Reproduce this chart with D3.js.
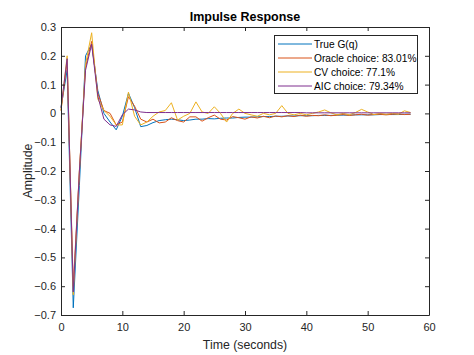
<!DOCTYPE html>
<html><head><meta charset="utf-8">
<script src="https://cdn.jsdelivr.net/npm/d3@7"></script>
<style>body{margin:0;background:#fff;} svg{display:block;font-family:"Liberation Sans",Arial,sans-serif;}</style>
</head><body>
<svg id="chart" width="474" height="355"></svg>
<script>
const seriesNames = ["True G(q)", "Oracle choice: 83.01%", "CV choice: 77.1%", "AIC choice: 79.34%"];
const seriesColors = ["#0072BD", "#D95319", "#EDB120", "#7E2F8E"];
const xTicks = [0, 10, 20, 30, 40, 50, 60];
const yTicks = [-0.7, -0.6, -0.5, -0.4, -0.3, -0.2, -0.1, 0, 0.1, 0.2, 0.3];

const trueG = [0.02,0.15,-0.675,-0.25,0.2,0.24,0.08,0.0,-0.03,-0.057,-0.01,0.07,0.02,-0.046,-0.042,-0.032,-0.025,-0.022,-0.02,-0.022,
 -0.025,-0.023,-0.02,-0.02,-0.018,-0.019,-0.017,-0.016,-0.016,-0.014,-0.013,-0.013,-0.012,-0.011,-0.011,-0.01,-0.01,-0.009,-0.009,-0.008,
 -0.008,-0.008,-0.007,-0.007,-0.007,-0.006,-0.006,-0.006,-0.005,-0.005,-0.005,-0.005,-0.004,-0.004,-0.004,-0.004,-0.003,-0.003];
const oracle = [0.01,0.18,-0.6,-0.2,0.16,0.25,0.07,0.01,0.0,-0.04,-0.03,0.058,0.025,-0.02,-0.03,-0.02,-0.033,-0.03,-0.015,-0.025,
 -0.03,-0.012,-0.012,-0.027,-0.015,-0.006,-0.02,-0.023,-0.011,-0.015,-0.02,-0.012,-0.016,-0.01,-0.015,-0.009,-0.012,-0.008,-0.011,-0.006,
 -0.01,-0.007,-0.008,-0.005,-0.008,-0.006,-0.004,-0.007,-0.005,-0.003,-0.006,-0.004,-0.003,-0.005,-0.003,-0.002,-0.004,-0.003];
const cv = [0.01,0.2,-0.63,-0.2,0.17,0.28,0.05,0.01,-0.01,-0.04,-0.04,0.074,-0.01,-0.04,-0.03,-0.01,0.005,0.01,0.037,-0.023,
 -0.01,0.0,0.04,0.005,0.0,0.023,0.0,-0.03,0.0,0.015,0.0,-0.005,-0.01,0.0,-0.005,0.0,0.027,0.0,-0.005,0.0,
 -0.005,0.0,0.005,0.012,0.002,-0.005,0.0,-0.005,0.003,0.014,0.005,-0.004,0.0,-0.003,0.0,-0.003,0.009,0.003];
const aic = [0.02,0.19,-0.62,-0.2,0.15,0.24,0.06,-0.02,-0.04,-0.045,-0.005,0.015,0.012,0.005,0.003,0.003,0.003,0.003,0.003,0.003,
 0.003,0.003,0.003,0.003,0.003,0.003,0.003,0.003,0.003,0.003,0.003,0.003,0.003,0.003,0.003,0.003,0.003,0.003,0.003,0.003,
 0.002,0.002,0.002,0.002,0.002,0.002,0.002,0.002,0.002,0.002,0.002,0.002,0.002,0.002,0.002,0.002,0.002,0.002];
const allSeries = [trueG, oracle, cv, aic];

const svg = d3.select("#chart");
const L = 61, R = 429, T = 27, B = 315;
const x = d3.scaleLinear().domain([0, 60]).range([L, R]);
const y = d3.scaleLinear().domain([-0.7, 0.3]).range([B, T]);
const axisColor = "#262626";

svg.append("rect").attr("x", L).attr("y", T).attr("width", R - L).attr("height", B - T).attr("fill", "#fff");

const line = d3.line().x((d, i) => x(i)).y(d => y(d));
const plot = svg.append("g");
allSeries.forEach((s, k) => {
  plot.append("path").datum(s).attr("d", line).attr("fill", "none")
    .attr("stroke", seriesColors[k]).attr("stroke-width", 1).attr("stroke-linejoin", "round");
});

const fmtY = d => d === 0 ? "0" : d3.format(".1f")(d);
const gBottom = svg.append("g").attr("transform", `translate(0,${B})`)
  .call(d3.axisBottom(x).tickValues(xTicks).tickSizeInner(-4).tickSizeOuter(0).tickPadding(8));
const gLeft = svg.append("g").attr("transform", `translate(${L},0)`)
  .call(d3.axisLeft(y).tickValues(yTicks).tickFormat(fmtY).tickSizeInner(-4).tickSizeOuter(0).tickPadding(5));
const gTop = svg.append("g").attr("transform", `translate(0,${T})`)
  .call(d3.axisTop(x).tickValues(xTicks).tickSizeInner(-4).tickSizeOuter(0).tickFormat(""));
const gRight = svg.append("g").attr("transform", `translate(${R},0)`)
  .call(d3.axisRight(y).tickValues(yTicks).tickSizeInner(-4).tickSizeOuter(0).tickFormat(""));
[gBottom, gLeft, gTop, gRight].forEach(g => {
  g.selectAll("path.domain").attr("stroke", axisColor).attr("stroke-width", 1);
  g.selectAll(".tick line").attr("stroke", axisColor);
  g.selectAll("text").attr("fill", axisColor).style("font-size", "11px").style("font-family", '"Liberation Sans",Arial,sans-serif');
});

svg.append("text").attr("x", (L + R) / 2).attr("y", 21).attr("text-anchor", "middle")
  .style("font-size", "12.5px").style("font-weight", "bold").attr("fill", "#000").text("Impulse Response");
svg.append("text").attr("x", (L + R) / 2).attr("y", 349).attr("text-anchor", "middle")
  .style("font-size", "12.3px").attr("fill", axisColor).text("Time (seconds)");
svg.append("text").attr("transform", `translate(32,${(T + B) / 2}) rotate(-90)`).attr("text-anchor", "middle")
  .style("font-size", "12.3px").attr("fill", axisColor).text("Amplitude");

const lg = svg.append("g");
lg.append("rect").attr("x", 274.5).attr("y", 35.5).attr("width", 143).attr("height", 58)
  .attr("fill", "#fff").attr("stroke", axisColor).attr("stroke-width", 1);
seriesNames.forEach((n, k) => {
  const yy = 44 + k * 14;
  lg.append("line").attr("x1", 278).attr("x2", 312).attr("y1", yy).attr("y2", yy)
    .attr("stroke", seriesColors[k]).attr("stroke-width", 1);
  lg.append("text").attr("x", 314).attr("y", yy).attr("dy", "0.35em")
    .style("font-size", "10.2px").attr("fill", "#000").text(n);
});
</script>
</body></html>
